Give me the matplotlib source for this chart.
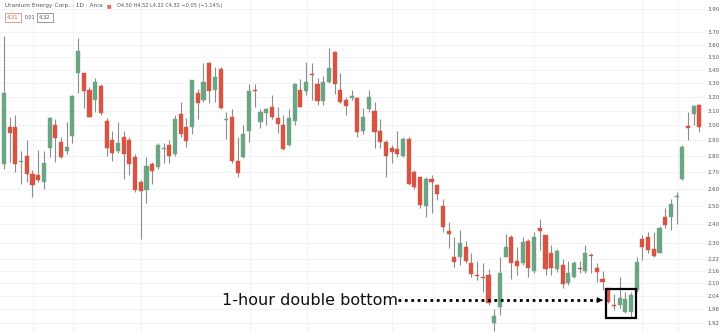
import matplotlib
matplotlib.use('Agg')
import matplotlib.pyplot as plt
from matplotlib.patches import Rectangle
from matplotlib.ticker import FixedLocator, FormatStrFormatter, NullLocator
import numpy as np

# daily OHLC, oldest first
opens = [2.75, 2.99, 2.99, 2.76, 2.80, 2.69, 2.68, 2.64, 2.85, 3.00,
         2.89, 2.83, 2.93, 3.38, 3.38, 3.25, 3.18, 3.28, 3.03, 2.90,
         2.83, 2.92, 2.90, 2.79, 2.64, 2.59, 2.75, 2.73, 2.845, 2.87,
         2.81, 3.08, 2.99, 2.99, 3.23, 3.18, 3.45, 3.25, 3.41, 3.036,
         3.06, 2.77, 2.79, 2.96, 3.249, 3.02, 3.085, 3.13, 3.05, 3.00,
         2.87, 3.03, 3.25, 3.24, 3.369, 3.29, 3.17, 3.31, 3.54, 3.25,
         3.18, 3.191, 3.19, 2.96, 3.11, 3.10, 2.96, 2.89, 2.85, 2.844,
         2.80, 2.91, 2.70, 2.67, 2.50, 2.658, 2.62, 2.50, 2.363, 2.23,
         2.23, 2.28, 2.20, 2.14, 2.131, 2.14, 1.92, 1.99, 2.23, 2.33,
         2.21, 2.20, 2.31, 2.16, 2.38, 2.34, 2.25, 2.17, 2.19, 2.10,
         2.13, 2.175, 2.16, 2.239, 2.175, 2.12, 2.08, 2.00, 2.00, 1.97,
         1.97, 2.07, 2.32, 2.33, 2.27, 2.25, 2.44, 2.44, 2.552, 2.66,
         2.995, 3.08, 3.14]
highs = [3.67, 3.06, 3.07, 2.83, 2.90, 2.71, 2.84, 2.83, 3.06, 3.04,
         2.92, 3.02, 3.21, 3.65, 3.38, 3.27, 3.34, 3.29, 3.05, 2.96,
         3.02, 2.96, 2.92, 2.81, 2.65, 2.79, 2.76, 2.88, 2.88, 2.90,
         3.07, 3.16, 3.05, 3.32, 3.26, 3.45, 3.46, 3.42, 3.42, 3.09,
         3.11, 2.92, 3.00, 3.29, 3.29, 3.11, 3.12, 3.21, 3.13, 3.07,
         3.11, 3.30, 3.33, 3.46, 3.45, 3.34, 3.35, 3.57, 3.55, 3.38,
         3.20, 3.25, 3.20, 3.12, 3.25, 3.16, 3.04, 2.90, 2.87, 2.96,
         2.92, 2.92, 2.71, 2.67, 2.67, 2.68, 2.63, 2.54, 2.41, 2.33,
         2.37, 2.31, 2.25, 2.21, 2.20, 2.17, 1.98, 2.23, 2.35, 2.34,
         2.28, 2.33, 2.32, 2.36, 2.43, 2.34, 2.29, 2.27, 2.22, 2.21,
         2.21, 2.21, 2.29, 2.25, 2.20, 2.16, 2.08, 2.05, 2.13, 2.06,
         2.06, 2.23, 2.34, 2.36, 2.36, 2.39, 2.49, 2.54, 2.58, 2.87,
         3.09, 3.14, 3.15]
lows = [2.72, 2.76, 2.70, 2.63, 2.64, 2.55, 2.64, 2.60, 2.79, 2.76,
        2.785, 2.81, 2.88, 3.23, 3.12, 3.06, 3.09, 3.07, 2.80, 2.77,
        2.82, 2.66, 2.68, 2.58, 2.32, 2.52, 2.63, 2.72, 2.755, 2.755,
        2.80, 2.92, 2.86, 2.94, 3.04, 3.16, 3.155, 3.16, 3.115, 2.91,
        2.755, 2.67, 2.787, 2.89, 3.13, 2.98, 3.00, 3.04, 2.95, 2.838,
        2.863, 3.00, 3.127, 3.21, 3.18, 3.14, 3.14, 3.30, 3.22, 3.155,
        3.07, 3.18, 2.92, 2.94, 3.09, 2.85, 2.85, 2.67, 2.755, 2.79,
        2.79, 2.62, 2.60, 2.49, 2.44, 2.46, 2.535, 2.36, 2.275, 2.18,
        2.19, 2.20, 2.13, 2.117, 2.06, 2.00, 1.886, 1.955, 2.229, 2.12,
        2.14, 2.19, 2.13, 2.15, 2.265, 2.14, 2.14, 2.155, 2.08, 2.093,
        2.126, 2.15, 2.15, 2.15, 2.107, 2.07, 2.009, 1.978, 1.986, 1.964,
        1.946, 2.06, 2.214, 2.249, 2.229, 2.249, 2.38, 2.37, 2.40, 2.652,
        2.90, 3.00, 2.955]
closes = [3.23, 2.95, 2.75, 2.77, 2.69, 2.62, 2.65, 2.755, 3.05, 2.915,
          2.79, 2.857, 3.205, 3.55, 3.24, 3.06, 3.31, 3.085, 2.85, 2.818,
          2.883, 2.81, 2.75, 2.59, 2.587, 2.737, 2.706, 2.87, 2.85, 2.80,
          3.04, 2.94, 2.896, 3.32, 3.155, 3.31, 3.24, 3.346, 3.12, 3.043,
          2.77, 2.694, 2.94, 3.24, 3.242, 3.09, 3.113, 3.057, 3.01, 2.844,
          3.05, 3.29, 3.127, 3.31, 3.361, 3.17, 3.31, 3.415, 3.29, 3.16,
          3.134, 3.205, 2.955, 3.06, 3.20, 2.955, 2.89, 2.80, 2.825, 2.812,
          2.91, 2.63, 2.61, 2.506, 2.658, 2.64, 2.569, 2.385, 2.348, 2.204,
          2.30, 2.209, 2.145, 2.136, 2.126, 2.009, 1.951, 2.15, 2.28, 2.199,
          2.184, 2.306, 2.175, 2.332, 2.363, 2.17, 2.175, 2.26, 2.098, 2.15,
          2.199, 2.17, 2.249, 2.234, 2.155, 2.107, 2.013, 1.995, 2.031, 2.027,
          2.047, 2.204, 2.28, 2.265, 2.234, 2.38, 2.396, 2.512, 2.557, 2.857,
          2.982, 3.134, 2.989]

price_ticks = [3.90, 3.70, 3.60, 3.50, 3.40, 3.30, 3.20, 3.10, 3.00, 2.90,
               2.80, 2.70, 2.60, 2.50, 2.40, 2.30, 2.22, 2.16, 2.10, 2.04,
               1.98, 1.92]
vgrid = [5.1, 12.1, 24.0, 43.2, 53.2, 68.1, 75.3, 93.0, 111.9, 118.2]

UP = '#6ba583'
DOWN = '#d75442'

o = np.array(opens)
h = np.array(highs)
l = np.array(lows)
c = np.array(closes)
idx = np.arange(len(o))
up = c >= o

fig = plt.figure(figsize=(7.2, 3.32), dpi=100)
ax = fig.add_axes([0, 0, 705 / 720, 1])

for y in price_ticks:
    ax.axhline(y, color='#f1f3f6', lw=0.7, zorder=0)
for x in vgrid:
    ax.axvline(x, color='#f1f3f6', lw=0.7, zorder=0)

colors = np.where(up, UP, DOWN)
ax.vlines(idx, l, h, color='#8c8c8c', lw=0.8, zorder=1)
bottom = np.minimum(o, c)
height = np.maximum(np.abs(c - o), 0.006)
ax.bar(idx, height, bottom=bottom, width=0.72, color=colors, edgecolor=colors,
       linewidth=0.3, zorder=2)

ax.set_yscale('log')
ax.set_ylim(1.8816, 3.981)
ax.set_xlim(-0.70, 122.98)
ax.yaxis.set_major_locator(FixedLocator(price_ticks))
ax.yaxis.set_major_formatter(FormatStrFormatter('%.2f'))
ax.yaxis.set_minor_locator(NullLocator())
ax.yaxis.tick_right()
ax.tick_params(axis='y', length=0, pad=2, labelsize=3.9, colors='#555555')
ax.set_xticks([])
for s in ax.spines.values():
    s.set_visible(False)
ax.patch.set_alpha(0)

# annotation: double bottom marker
box_lo, box_hi = 106, 110
y_arrow = 2.022
ax.text(38.2, y_arrow, '1-hour double bottom', fontsize=11.5, color='#111111',
        va='center', ha='left', zorder=5)
ax.plot([69.2, 104.4], [y_arrow, y_arrow], color='black', lw=2,
        linestyle=(0, (1, 1.3)), dash_capstyle='butt', zorder=5)
ax.annotate('', xy=(box_lo - 0.45, y_arrow), xytext=(box_lo - 1.6, y_arrow),
            arrowprops=dict(arrowstyle='-|>', color='black', lw=0.5,
                            mutation_scale=9), zorder=5)
ax.add_patch(Rectangle((box_lo - 0.35, 1.944), (box_hi - box_lo) + 1.15,
                       2.074 - 1.944, fill=False, ec='black', lw=1.6, zorder=6))

# header
fig.text(5 / 720, 1 - 6 / 332, 'Uranium Energy Corp. · 1D · Arca', fontsize=4.2,
         color='#555555', va='center', ha='left')
fig.text(107 / 720, 1 - 6 / 332, '■', fontsize=3.5, color='#e26a5a',
         va='center', ha='left')
fig.text(117 / 720, 1 - 6 / 332, 'O4.50 H4.52 L4.22 C4.32 −0.05 (−1.14%)',
         fontsize=3.6, color='#555555', va='center', ha='left')
fig.text(7 / 720, 1 - 17.5 / 332, '4.31', fontsize=3.8, color='#d75442',
         va='center', ha='left',
         bbox=dict(boxstyle='square,pad=0.4', fc='white', ec='#e08a80', lw=0.6))
fig.text(25 / 720, 1 - 17.5 / 332, '0.01', fontsize=3.4, color='#555555',
         va='center', ha='left')
fig.text(39 / 720, 1 - 17.5 / 332, '4.32', fontsize=3.8, color='#555555',
         va='center', ha='left',
         bbox=dict(boxstyle='square,pad=0.4', fc='white', ec='#888888', lw=0.6))

fig.savefig('out.png', dpi=100, facecolor='white')
